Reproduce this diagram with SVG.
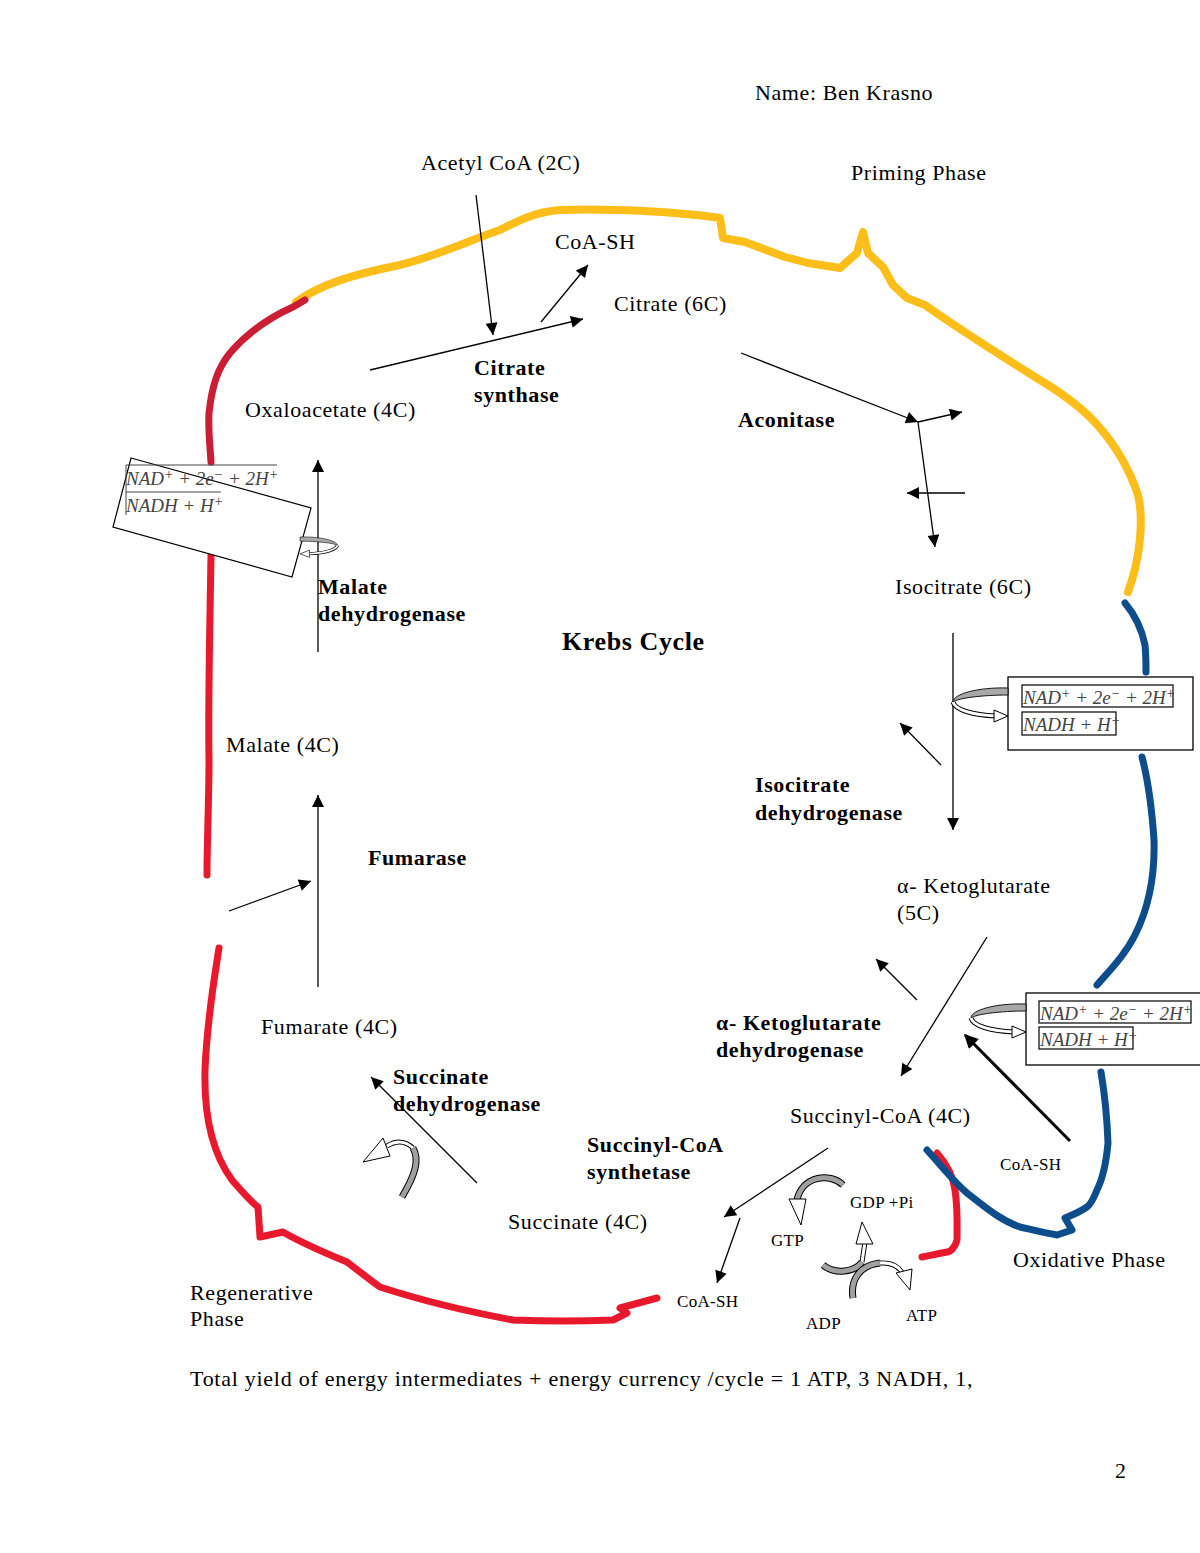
<svg xmlns="http://www.w3.org/2000/svg" width="1200" height="1553" viewBox="0 0 1200 1553">
<defs>
<style>
.t{font-family:"Liberation Serif","Times New Roman",serif;font-size:22px;letter-spacing:0.6px;fill:#000}
.b{font-weight:bold}
.s{font-size:17px;letter-spacing:0.3px}
.nad{font-family:"Liberation Serif","Times New Roman",serif;font-style:italic;font-size:19px;fill:#444}
.sp{font-size:14px}
.ln{fill:none;stroke:#000;stroke-width:1.3}
.yl{fill:none;stroke:#FDBE1A;stroke-width:8;stroke-linecap:round;stroke-linejoin:round}
.rd{fill:none;stroke:#E8192C;stroke-width:7;stroke-linecap:round;stroke-linejoin:round}
.rd2{fill:none;stroke:#CB1D34;stroke-width:7;stroke-linecap:round;stroke-linejoin:round}
.bl{fill:none;stroke:#0D4D8C;stroke-width:7;stroke-linecap:round;stroke-linejoin:round}
.bo{fill:none;stroke:#000;stroke-width:7;stroke-linecap:butt}
.bi{fill:none;stroke:#A0A0A0;stroke-width:5;stroke-linecap:butt}
.wo{fill:none;stroke:#000;stroke-width:5}
.wi{fill:none;stroke:#fff;stroke-width:3}
.hd{fill:#fff;stroke:#000;stroke-width:1}
</style>
<marker id="ah" viewBox="0 0 10 10" refX="10" refY="5" markerWidth="15" markerHeight="12" markerUnits="userSpaceOnUse" orient="auto">
<path d="M0,0 L10,5 L0,10 z" fill="#000"/>
</marker>
<marker id="ahb" viewBox="0 0 10 10" refX="9" refY="5" markerWidth="18" markerHeight="14" markerUnits="userSpaceOnUse" orient="auto">
<path d="M0,0 L10,5 L0,10 z" fill="#000"/>
</marker>
<g id="curl">
<path d="M0,0 C-30,-1 -55,6 -55,14 C-50,10 -25,7 0,7 Z" fill="#A8A8A8" stroke="#000" stroke-width="0.9"/>
<path d="M-55,14 C-53,22 -35,27 -12,28" class="wo"/>
<path d="M-55,14 C-53,22 -35,27 -12,28" class="wi"/>
<polygon points="-14,22 0,28 -14,34" class="hd"/>
</g>
</defs>

<g id="phase-strokes">
<path class="yl" d="M296,302 C320,285 350,275 400,265 C440,255 470,240 500,230 C520,220 535,212 560,210 C610,208 680,212 720,218 L723,238 L745,242 L785,257 L808,263 L840,268 L857,253 L863,232 L868,253 L883,267 L893,285 L907,298 L925,305 C960,330 1000,355 1040,380 C1065,395 1085,410 1100,428 C1115,445 1130,470 1138,495 C1144,520 1140,560 1128,592"/>
<path class="rd2" d="M305,300 L293,307 C275,315 250,330 230,353 C218,368 212,385 209,413 C208,430 210,445 211,462"/>
<path class="rd" d="M211,555 C210,620 208,700 209,760 C209,800 207,840 207,875"/>
<path class="rd" d="M219,948 C214,980 207,1020 205,1070 C204,1110 210,1150 232,1180 C245,1195 255,1205 258,1207 L260,1237 L283,1232 C300,1242 330,1255 347,1262 C355,1268 370,1280 380,1287 C420,1300 470,1312 513,1320 C560,1322 590,1321 613,1320 L627,1313 L620,1308 L657,1298"/>
<path class="rd" d="M937,1153 C945,1162 953,1175 955,1190 C958,1210 957,1228 957,1240 C955,1248 950,1252 947,1252 C935,1254 928,1256 922,1257"/>
<path class="bl" d="M1125,603 C1135,615 1142,630 1145,645 C1146,655 1146,665 1146,672"/>
<path class="bl" d="M1142,757 C1148,780 1152,810 1154,840 C1155,875 1150,905 1135,935 C1125,955 1110,970 1097,985"/>
<path class="bl" d="M1101,1072 C1104,1090 1107,1115 1108,1143 C1106,1165 1102,1180 1097,1190 C1093,1200 1090,1205 1087,1207 C1078,1213 1070,1216 1065,1218 L1072,1230 L1057,1235 C1045,1233 1033,1230 1020,1227 C1000,1220 985,1207 967,1193 C955,1183 945,1170 927,1150"/>
</g>

<g id="connectors">
<line class="ln" x1="476" y1="195" x2="493" y2="335" marker-end="url(#ah)"/>
<line class="ln" x1="370" y1="370" x2="583" y2="319" marker-end="url(#ah)"/>
<line class="ln" x1="541" y1="322" x2="588" y2="265" marker-end="url(#ah)"/>
<line class="ln" x1="741" y1="353" x2="918" y2="422" marker-end="url(#ah)"/>
<line class="ln" x1="918" y1="422" x2="962" y2="412" marker-end="url(#ah)"/>
<line class="ln" x1="918" y1="422" x2="935" y2="547" marker-end="url(#ah)"/>
<line class="ln" x1="965" y1="493" x2="907" y2="493" marker-end="url(#ah)"/>
<line class="ln" x1="953" y1="633" x2="953" y2="830" marker-end="url(#ah)"/>
<line class="ln" x1="941" y1="765" x2="900" y2="723" marker-end="url(#ah)"/>
<line class="ln" x1="987" y1="937" x2="901" y2="1076" marker-end="url(#ah)"/>
<line class="ln" x1="917" y1="1000" x2="876" y2="959" marker-end="url(#ah)"/>
<line x1="1070" y1="1141" x2="965" y2="1035" stroke="#000" stroke-width="3" marker-end="url(#ahb)"/>
<line class="ln" x1="828" y1="1148" x2="724" y2="1217" marker-end="url(#ah)"/>
<line class="ln" x1="740" y1="1218" x2="717" y2="1283" marker-end="url(#ah)"/>
<line class="ln" x1="477" y1="1183" x2="371" y2="1077" marker-end="url(#ah)"/>
<line class="ln" x1="318" y1="987" x2="318" y2="795" marker-end="url(#ah)"/>
<line class="ln" x1="229" y1="911" x2="311" y2="881" marker-end="url(#ah)"/>
<line class="ln" x1="318" y1="652" x2="318" y2="460" marker-end="url(#ah)"/>
</g>

<g id="energy-arrows">
<path class="bo" d="M843,1185 C830,1172 802,1176 797,1200"/>
<path class="bi" d="M843,1185 C830,1172 802,1176 797,1200"/>
<polygon points="789,1199 806,1199 801,1225" class="hd"/>
<path class="bo" d="M823,1265 C835,1275 855,1272 862,1262"/>
<path class="bi" d="M823,1265 C835,1275 855,1272 862,1262"/>
<path class="wo" d="M862,1262 L865,1242"/>
<path class="wi" d="M862,1262 L865,1242"/>
<polygon points="856,1244 873,1244 862,1222" class="hd"/>
<path class="bo" d="M853,1298 C850,1280 860,1265 880,1263"/>
<path class="bi" d="M853,1298 C850,1280 860,1265 880,1263"/>
<path class="wo" d="M880,1263 C893,1262 900,1268 903,1274"/>
<path class="wi" d="M880,1263 C893,1262 900,1268 903,1274"/>
<polygon points="896,1273 912,1269 910,1290" class="hd"/>
<path class="bo" d="M402,1197 C415,1175 420,1160 413,1148"/>
<path class="bi" d="M402,1197 C415,1175 420,1160 413,1148"/>
<path class="wo" d="M413,1148 C405,1140 395,1141 387,1146"/>
<path class="wi" d="M413,1148 C405,1140 395,1141 387,1146"/>
<polygon points="383,1138 390,1156 363,1162" class="hd"/>
</g>

<g id="nad-box-1">
<polygon points="131,458 311,508 292,577 113,527" fill="#fff" stroke="#000" stroke-width="1.2"/>
<line x1="126" y1="465" x2="277" y2="465" stroke="#444" stroke-width="1"/>
<line x1="126" y1="492" x2="221" y2="492" stroke="#444" stroke-width="1"/>
<line x1="126" y1="465" x2="126" y2="515" stroke="#444" stroke-width="1"/>
<text class="nad" x="126" y="485">NAD<tspan class="sp" dy="-6">+</tspan><tspan dy="6"> + 2e</tspan><tspan class="sp" dy="-6">−</tspan><tspan dy="6"> + 2H</tspan><tspan class="sp" dy="-6">+</tspan></text>
<text class="nad" x="126" y="512">NADH + H<tspan class="sp" dy="-6">+</tspan></text>
<use href="#curl" transform="translate(300,537) scale(-0.68,0.6)"/>
</g>

<g id="nad-box-2">
<rect x="1008" y="677" width="185" height="73" fill="#fff" stroke="#000" stroke-width="1.3"/>
<rect x="1022" y="685" width="151" height="22" fill="none" stroke="#000" stroke-width="1.2"/>
<rect x="1022" y="712" width="94" height="23" fill="none" stroke="#000" stroke-width="1.2"/>
<text class="nad" x="1023" y="704">NAD<tspan class="sp" dy="-6">+</tspan><tspan dy="6"> + 2e</tspan><tspan class="sp" dy="-6">−</tspan><tspan dy="6"> + 2H</tspan><tspan class="sp" dy="-6">+</tspan></text>
<text class="nad" x="1023" y="731">NADH + H<tspan class="sp" dy="-6">+</tspan></text>
<use href="#curl" transform="translate(1008,688)"/>
</g>

<g id="nad-box-3">
<rect x="1026" y="993" width="180" height="72" fill="#fff" stroke="#000" stroke-width="1.3"/>
<rect x="1039" y="1001" width="152" height="22" fill="none" stroke="#000" stroke-width="1.2"/>
<rect x="1039" y="1027" width="94" height="22" fill="none" stroke="#000" stroke-width="1.2"/>
<text class="nad" x="1040" y="1020">NAD<tspan class="sp" dy="-6">+</tspan><tspan dy="6"> + 2e</tspan><tspan class="sp" dy="-6">−</tspan><tspan dy="6"> + 2H</tspan><tspan class="sp" dy="-6">+</tspan></text>
<text class="nad" x="1040" y="1046">NADH + H<tspan class="sp" dy="-6">+</tspan></text>
<use href="#curl" transform="translate(1026,1004)"/>
</g>

<g id="labels">
<text class="t" x="755" y="100">Name: Ben Krasno</text>
<text class="t" x="421" y="170">Acetyl CoA (2C)</text>
<text class="t" x="851" y="180">Priming Phase</text>
<text class="t" x="555" y="249">CoA-SH</text>
<text class="t" x="614" y="311">Citrate (6C)</text>
<text class="t b" x="474" y="375">Citrate</text>
<text class="t b" x="474" y="402">synthase</text>
<text class="t" x="245" y="417">Oxaloacetate (4C)</text>
<text class="t b" x="738" y="427">Aconitase</text>
<text class="t" x="895" y="594">Isocitrate (6C)</text>
<text class="t b" x="318" y="594">Malate</text>
<text class="t b" x="318" y="621">dehydrogenase</text>
<text class="t b" x="562" y="650" style="font-size:26px">Krebs Cycle</text>
<text class="t" x="226" y="752">Malate (4C)</text>
<text class="t b" x="755" y="792">Isocitrate</text>
<text class="t b" x="755" y="820">dehydrogenase</text>
<text class="t b" x="368" y="865">Fumarase</text>
<text class="t" x="897" y="893">α- Ketoglutarate</text>
<text class="t" x="897" y="920">(5C)</text>
<text class="t" x="261" y="1034">Fumarate (4C)</text>
<text class="t b" x="716" y="1030">α- Ketoglutarate</text>
<text class="t b" x="716" y="1057">dehydrogenase</text>
<text class="t b" x="393" y="1084">Succinate</text>
<text class="t b" x="393" y="1111">dehydrogenase</text>
<text class="t" x="790" y="1123">Succinyl-CoA (4C)</text>
<text class="t b" x="587" y="1152">Succinyl-CoA</text>
<text class="t b" x="587" y="1179">synthetase</text>
<text class="t s" x="1000" y="1170">CoA-SH</text>
<text class="t s" x="850" y="1208">GDP +Pi</text>
<text class="t" x="508" y="1229">Succinate (4C)</text>
<text class="t s" x="771" y="1246">GTP</text>
<text class="t" x="1013" y="1267">Oxidative Phase</text>
<text class="t" x="190" y="1300">Regenerative</text>
<text class="t" x="190" y="1326">Phase</text>
<text class="t s" x="677" y="1307">CoA-SH</text>
<text class="t s" x="906" y="1321">ATP</text>
<text class="t s" x="806" y="1329">ADP</text>
<text class="t" x="190" y="1386" textLength="783">Total yield of energy intermediates + energy currency /cycle = 1 ATP, 3 NADH, 1,</text>
<text class="t" x="1115" y="1478">2</text>
</g>
</svg>
